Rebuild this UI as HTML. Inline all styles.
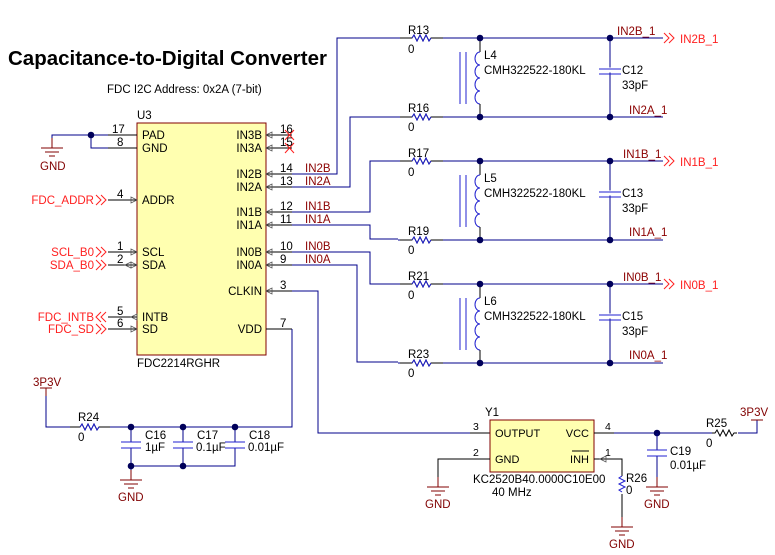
<!DOCTYPE html>
<html><head><meta charset="utf-8"><style>
html,body{margin:0;padding:0;background:#fff}
svg{display:block}
text{font-family:"Liberation Sans",sans-serif;font-size:11.5px}
</style></head><body>
<svg width="775" height="555" viewBox="0 0 775 555" xmlns="http://www.w3.org/2000/svg">
<defs>
<g id="gnd"><line x1="0" y1="0" x2="0" y2="10" stroke="#800000"/><line x1="-11" y1="10" x2="11" y2="10" stroke="#800000"/><line x1="-7" y1="14" x2="7" y2="14" stroke="#800000"/><line x1="-3" y1="18" x2="3" y2="18" stroke="#800000"/></g>
<g id="lc">
<line x1="398" y1="0" x2="663" y2="0" stroke="#00008b"/>
<line x1="398" y1="79" x2="663" y2="79" stroke="#00008b"/>
<line x1="406" y1="0" x2="438" y2="0" stroke="#fff" stroke-width="3"/>
<line x1="406" y1="79" x2="438" y2="79" stroke="#fff" stroke-width="3"/>
<path d="M400,0 h12 l2,-3 l3,6 l3,-6 l3,6 l3,-6 l3,6 l2,-3 h12" fill="none" stroke="#000"/>
<path d="M400,79 h12 l2,-3 l3,6 l3,-6 l3,6 l3,-6 l3,6 l2,-3 h12" fill="none" stroke="#000"/>
<path d="M412,0 l2,-3 l3,6 l3,-6 l3,6 l3,-6 l3,6 l2,-3" fill="none" stroke="#2020d0"/>
<path d="M412,79 l2,-3 l3,6 l3,-6 l3,6 l3,-6 l3,6 l2,-3" fill="none" stroke="#2020d0"/>
<line x1="480" y1="0" x2="480" y2="14" stroke="#000"/>
<path d="M480,14 a5,6.5 0 0 0 0,13 a5,6.5 0 0 0 0,13 a5,6.5 0 0 0 0,13 a5,6.5 0 0 0 0,13" fill="none" stroke="#2020d0"/>
<line x1="480" y1="66" x2="480" y2="79" stroke="#000"/>
<line x1="460" y1="14" x2="460" y2="66" stroke="#2020d0"/>
<line x1="466" y1="14" x2="466" y2="66" stroke="#2020d0"/>
<line x1="610" y1="0" x2="610" y2="79" stroke="#00008b"/>
<line x1="598" y1="32" x2="622" y2="32" stroke="#fff" stroke-width="5"/>
<line x1="599" y1="31" x2="621" y2="31" stroke="#2020d0"/>
<line x1="599" y1="36" x2="621" y2="36" stroke="#2020d0"/>
<circle cx="480" cy="0" r="3.3" fill="#00005a"/><circle cx="480" cy="79" r="3.3" fill="#00005a"/>
<circle cx="610" cy="0" r="3.3" fill="#00005a"/><circle cx="610" cy="79" r="3.3" fill="#00005a"/>
</g>
</defs>

<text x="8" y="65" style="font-size:20.5px;font-weight:bold">Capacitance-to-Digital Converter</text>
<text x="107" y="93" style="font-size:11.5px">FDC I2C Address: 0x2A (7-bit)</text>

<!-- U3 -->
<text x="137" y="119">U3</text>
<rect x="137" y="123" width="129" height="232" fill="#ffffb0" stroke="#800000"/>
<text x="137" y="367">FDC2214RGHR</text>
<g stroke="#000">
<line x1="108" y1="135" x2="137" y2="135"/><line x1="108" y1="148" x2="137" y2="148"/>
<line x1="108" y1="200" x2="137" y2="200"/><line x1="108" y1="252" x2="137" y2="252"/>
<line x1="108" y1="265" x2="137" y2="265"/><line x1="108" y1="317" x2="137" y2="317"/>
<line x1="108" y1="329" x2="137" y2="329"/>
<line x1="266" y1="135" x2="292" y2="135"/><line x1="266" y1="148" x2="292" y2="148"/>
<line x1="266" y1="174" x2="292" y2="174"/><line x1="266" y1="187" x2="292" y2="187"/>
<line x1="266" y1="212" x2="292" y2="212"/><line x1="266" y1="225" x2="292" y2="225"/>
<line x1="266" y1="252" x2="292" y2="252"/><line x1="266" y1="265" x2="292" y2="265"/>
<line x1="266" y1="291" x2="292" y2="291"/><line x1="266" y1="329" x2="292" y2="329"/>
</g>
<g fill="none" stroke="#555" stroke-width="0.8">
<path d="M137,200 l-6,-3 v6z"/><path d="M137,252 l-6,-3 v6z"/><path d="M137,265 l-6,-3 v6z M125,265 l6,-3 v6z"/>
<path d="M131,317 l6,-3 v6z"/><path d="M137,329 l-6,-3 v6z"/>
<path d="M266,135 l6,-3 v6z"/><path d="M266,148 l6,-3 v6z"/><path d="M266,174 l6,-3 v6z"/><path d="M266,187 l6,-3 v6z"/>
<path d="M266,212 l6,-3 v6z"/><path d="M266,225 l6,-3 v6z"/><path d="M266,252 l6,-3 v6z"/><path d="M266,265 l6,-3 v6z"/><path d="M266,291 l6,-3 v6z"/>
</g>
<g stroke="#ff2020"><path d="M285,130 l9,10 M285,140 l9,-10 M285,143 l9,10 M285,153 l9,-10"/></g>
<g>
<text x="142" y="139">PAD</text><text x="142" y="152">GND</text><text x="142" y="204">ADDR</text>
<text x="142" y="256">SCL</text><text x="142" y="269">SDA</text><text x="142" y="321">INTB</text><text x="142" y="333">SD</text>
<text x="262" y="139" text-anchor="end">IN3B</text><text x="262" y="152" text-anchor="end">IN3A</text>
<text x="262" y="178" text-anchor="end">IN2B</text><text x="262" y="191" text-anchor="end">IN2A</text>
<text x="262" y="216" text-anchor="end">IN1B</text><text x="262" y="229" text-anchor="end">IN1A</text>
<text x="262" y="256" text-anchor="end">IN0B</text><text x="262" y="269" text-anchor="end">IN0A</text>
<text x="262" y="295" text-anchor="end">CLKIN</text><text x="262" y="333" text-anchor="end">VDD</text>
</g>
<g style="font-size:10.5px">
<text x="112" y="133">17</text><text x="117" y="146">8</text><text x="117" y="198">4</text><text x="117" y="250">1</text><text x="117" y="263">2</text>
<text x="117" y="315">5</text><text x="117" y="327">6</text>
<text x="280" y="133">16</text><text x="280" y="146">15</text><text x="280" y="172">14</text><text x="280" y="185">13</text>
<text x="280" y="210">12</text><text x="280" y="223">11</text><text x="280" y="250">10</text><text x="280" y="263">9</text>
<text x="280" y="289">3</text><text x="280" y="327">7</text>
</g>
<g fill="#8b0000">
<text x="305" y="172">IN2B</text><text x="305" y="185">IN2A</text><text x="305" y="210">IN1B</text><text x="305" y="223">IN1A</text>
<text x="305" y="250">IN0B</text><text x="305" y="263">IN0A</text>
</g>
<!-- left GND -->
<path d="M108,135 H52 V146 M91,135 V148 H108" fill="none" stroke="#00008b"/>
<circle cx="91" cy="135" r="3.3" fill="#00005a"/>
<use href="#gnd" x="52" y="138"/>
<text x="40" y="170" fill="#800000">GND</text>
<!-- input labels -->
<g fill="#ff2020">
<text x="94" y="204" text-anchor="end">FDC_ADDR</text><text x="94" y="256" text-anchor="end">SCL_B0</text>
<text x="94" y="269" text-anchor="end">SDA_B0</text><text x="94" y="321" text-anchor="end">FDC_INTB</text>
<text x="94" y="333" text-anchor="end">FDC_SD</text>
</g>
<g fill="none" stroke="#ff2020">
<path d="M96,195 l5,5 l-5,5 M101,195 l5,5 l-5,5"/><path d="M96,247 l5,5 l-5,5 M101,247 l5,5 l-5,5"/>
<path d="M96,260 l5,5 l-5,5 M101,260 l5,5 l-5,5"/><path d="M101,312 l-5,5 l5,5 M106,312 l-5,5 l5,5"/>
<path d="M96,324 l5,5 l-5,5 M101,324 l5,5 l-5,5"/>
</g>

<!-- IN wires to filters -->
<g fill="none" stroke="#00008b">
<path d="M292,174 H337 V38 H398"/>
<path d="M292,187 H350 V117 H398"/>
<path d="M292,212 H370 V161 H398"/>
<path d="M292,225 H370 V239 H398"/>
<path d="M292,252 H370 V284 H398"/>
<path d="M292,265 H357 V362 H398"/>
</g>
<use href="#lc" y="38"/><use href="#lc" y="161"/><use href="#lc" y="284"/>
<text x="484" y="59">L4</text><text x="484" y="182">L5</text><text x="484" y="305">L6</text>
<g>
<text x="408" y="34">R13</text><text x="408" y="53">0</text><text x="408" y="112">R16</text><text x="408" y="131">0</text>
<text x="408" y="157">R17</text><text x="408" y="176">0</text><text x="408" y="235">R19</text><text x="408" y="254">0</text>
<text x="408" y="280">R21</text><text x="408" y="299">0</text><text x="408" y="358">R23</text><text x="408" y="377">0</text>
<text x="484" y="74">CMH322522-180KL</text><text x="484" y="197">CMH322522-180KL</text><text x="484" y="320">CMH322522-180KL</text>
<text x="622" y="74">C12</text><text x="622" y="89">33pF</text>
<text x="622" y="197">C13</text><text x="622" y="212">33pF</text>
<text x="622" y="320">C15</text><text x="622" y="335">33pF</text>
</g>
<g fill="#8b0000">
<text x="617" y="35">IN2B_1</text><text x="629" y="114">IN2A_1</text>
<text x="623" y="158">IN1B_1</text><text x="629" y="236">IN1A_1</text>
<text x="623" y="281">IN0B_1</text><text x="629" y="359">IN0A_1</text>
</g>
<g fill="none" stroke="#ff2020">
<path d="M664,33 l5,5 l-5,5 M669,33 l5,5 l-5,5"/><path d="M664,156 l5,5 l-5,5 M669,156 l5,5 l-5,5"/>
<path d="M664,279 l5,5 l-5,5 M669,279 l5,5 l-5,5"/>
</g>
<g fill="#ff2020"><text x="680" y="43">IN2B_1</text><text x="680" y="166">IN1B_1</text><text x="680" y="289">IN0B_1</text></g>

<!-- power section left -->
<text x="33" y="386" fill="#800000">3P3V</text>
<line x1="40" y1="388" x2="52" y2="388" stroke="#800000"/>
<line x1="46" y1="388" x2="46" y2="396" stroke="#800000"/>
<path d="M46,396 V427 H70 M110,427 H292 V329" fill="none" stroke="#00008b"/>
<path d="M70,427 h10 l2,-3 l3,6 l3,-6 l3,6 l3,-6 l3,6 l2,-3 h11" fill="none" stroke="#000"/>
<path d="M80,427 l2,-3 l3,6 l3,-6 l3,6 l3,-6 l3,6 l2,-3" fill="none" stroke="#2020d0"/>
<text x="78" y="421">R24</text><text x="78" y="441">0</text>
<g stroke="#00008b" fill="none">
<path d="M131,427 V442 M131,448 V466 H235 V448 M235,442 V427 M183,427 V442 M183,448 V466 M131,466 V478"/>
</g>
<g stroke="#2020d0">
<line x1="121" y1="442" x2="141" y2="442"/><line x1="121" y1="448" x2="141" y2="448"/>
<line x1="173" y1="442" x2="193" y2="442"/><line x1="173" y1="448" x2="193" y2="448"/>
<line x1="225" y1="442" x2="245" y2="442"/><line x1="225" y1="448" x2="245" y2="448"/>
</g>
<g fill="#00005a"><circle cx="131" cy="427" r="3.3"/><circle cx="183" cy="427" r="3.3"/><circle cx="235" cy="427" r="3.3"/><circle cx="131" cy="466" r="3.3"/><circle cx="183" cy="466" r="3.3"/></g>
<use href="#gnd" x="131" y="470"/>
<text x="118" y="501" fill="#800000">GND</text>
<text x="145" y="439">C16</text><text x="145" y="451">1µF</text>
<text x="197" y="439">C17</text><text x="196" y="451">0.1µF</text>
<text x="249" y="439">C18</text><text x="248" y="451">0.01µF</text>

<!-- Y1 -->
<path d="M292,291 H318 V433 H470" fill="none" stroke="#00008b"/>
<line x1="470" y1="433" x2="490" y2="433" stroke="#000"/>
<text x="473" y="430" style="font-size:10.5px">3</text>
<rect x="490" y="420" width="104" height="52" fill="#ffffb0" stroke="#800000"/>
<text x="485" y="416">Y1</text>
<text x="495" y="437" style="font-size:11px">OUTPUT</text><text x="495" y="463" style="font-size:11px">GND</text>
<text x="589" y="437" text-anchor="end" style="font-size:11px">VCC</text><text x="589" y="463" text-anchor="end" style="font-size:11px">INH</text>
<line x1="572" y1="451" x2="589" y2="451" stroke="#000"/>
<text x="473" y="483">KC2520B40.0000C10E00</text><text x="492" y="496">40 MHz</text>
<line x1="470" y1="459" x2="490" y2="459" stroke="#000"/>
<text x="473" y="456" style="font-size:10.5px">2</text>
<path d="M470,459 H438 V485" fill="none" stroke="#000"/>
<use href="#gnd" x="438" y="477"/>
<text x="425" y="508" fill="#800000">GND</text>
<line x1="594" y1="433" x2="614" y2="433" stroke="#000"/>
<text x="605" y="430" style="font-size:10.5px">4</text>
<path d="M614,433 H712 M738,433 H757 V420" fill="none" stroke="#00008b"/>
<path d="M712,433 h3 l2,-3 l3,6 l3,-6 l3,6 l3,-6 l3,6 l2,-3 h3" fill="none" stroke="#000"/>
<text x="706" y="427">R25</text><text x="706" y="447">0</text>
<line x1="751" y1="420" x2="763" y2="420" stroke="#800000"/>
<text x="740" y="416" fill="#800000">3P3V</text>
<circle cx="657" cy="433" r="3.3" fill="#00005a"/>
<path d="M657,433 V450 M657,456 V478" fill="none" stroke="#00008b"/>
<line x1="647" y1="450" x2="667" y2="450" stroke="#2020d0"/><line x1="647" y1="456" x2="667" y2="456" stroke="#2020d0"/>
<use href="#gnd" x="657" y="477"/>
<text x="644" y="508" fill="#800000">GND</text>
<text x="670" y="455">C19</text><text x="670" y="469">0.01µF</text>
<path d="M594,459 H622 V476 M622,494 V523" fill="none" stroke="#000"/>
<path d="M600,459 l6,-3 v6z" fill="none" stroke="#555" stroke-width="0.8"/>
<text x="605" y="456" style="font-size:10.5px">1</text>
<path d="M622,476 l-3,2 l6,3 l-6,3 l6,3 l-6,3 l3,2" fill="none" stroke="#2020d0"/>
<text x="626" y="482">R26</text><text x="626" y="494">0</text>
<use href="#gnd" x="622" y="517"/>
<text x="609" y="548" fill="#800000">GND</text>
</svg>
</body></html>
